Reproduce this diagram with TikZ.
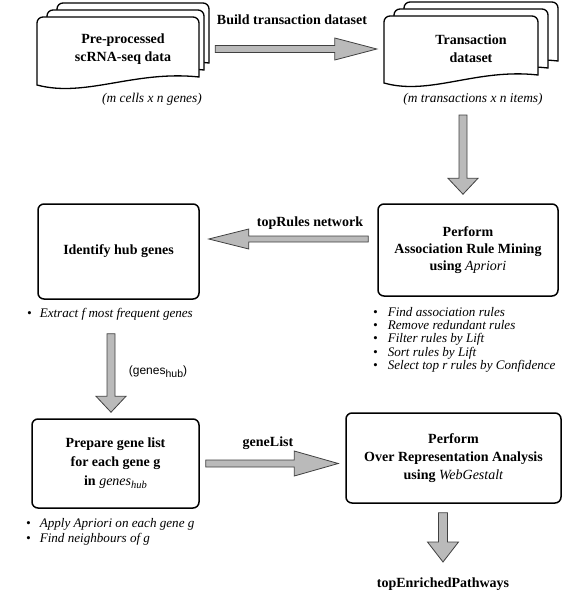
\documentclass[tikz,border=0pt]{standalone}
\usepackage{fontspec}
\setmainfont{Liberation Serif}
\setsansfont{Liberation Sans}
\usetikzlibrary{calc}

\tikzset{
    box/.style={draw, line width=1.5pt, rounded corners=6pt, align=center,
        font=\bfseries\fontsize{14}{18}\selectfont},
    doc/.style={align=center, font=\bfseries\fontsize{14}{18}\selectfont},
    lbl/.style={font=\bfseries\fontsize{14}{17}\selectfont},
    dim/.style={font=\itshape\fontsize{13.4}{14}\selectfont},
    note/.style={align=left, inner sep=0pt, anchor=north west,
        font=\itshape\fontsize{13.1}{13.3}\selectfont},
    sheet/.style={draw, fill=white, line width=1.3pt},
    fat/.style={draw=black!75, fill=black!27, line width=0.8pt, line join=miter}
}

% from, to, shaft half width, head half width, head length
\newcommand{\blockarrow}[5]{%
    \coordinate (hb) at ($(#2)!#5!(#1)$);
    \filldraw[fat] ($(#1)!#3!90:(#2)$) -- ($(hb)!#3!90:(#2)$) -- ($(hb)!#4!90:(#2)$) -- (#2)
        -- ($(hb)!#4!-90:(#2)$) -- ($(hb)!#3!-90:(#2)$) -- ($(#1)!#3!-90:(#2)$) -- cycle;
}

% left, top, width, height, shrink
\newcommand{\docstack}[5]{%
    \foreach \i in {2,1,0} {
        \pgfmathsetmacro\sw{#3-#5*\i}
        \begin{scope}[shift={({#1+10*\i},{#2-7*\i})}]
            \filldraw[sheet] (0,#4) -- (0,6) to[out=90,in=180] (6,0) -- ({\sw-6},0)
                to[out=0,in=90] (\sw,6) -- (\sw,{#4-8})
                .. controls ({0.6*\sw},{#4-15}) and ({0.3*\sw},{#4+13}) .. cycle;
        \end{scope}
    }
}
% lowered subscript, a bit larger than \textsubscript
\newcommand{\hubsub}[1]{\raisebox{-3pt}{\fontsize{10.5}{11}\selectfont #1}}

\begin{document}
\begin{tikzpicture}[x=1pt, y=-1pt]
    \useasboundingbox (0,0) rectangle (579,592);

    % data sheets
    \docstack{37}{17}{162}{68}{5}
    \docstack{384}{16}{154}{67}{0}
    \node[doc, minimum width=172pt] (prep) at (123,49) {Pre-processed\\scRNA-seq data};
    \node[doc, minimum width=174pt] (trans) at (471,49) {Transaction\\dataset};
    \node[dim] (prepdim) at (152,99) {(m cells x n genes)};
    \node[dim] (transdim) at (473,99) {(m transactions x n items)};

    % steps
    \node[box, minimum width=180pt, minimum height=92pt,
        font=\bfseries\fontsize{14}{17}\selectfont] (mine) at (468,250)
        {Perform\\Association Rule Mining\\using \textit{\mdseries Apriori}};
    \node[box, minimum width=161pt, minimum height=95pt] (hub) at (118.5,251.5) {Identify hub genes};
    \node[box, minimum width=167pt, minimum height=89pt,
        font=\bfseries\fontsize{14}{19}\selectfont] (prepl) at (115.5,463.5)
        {Prepare gene list\\for each gene g\\in \textit{\mdseries genes\hubsub{hub}}};
    \node[box, minimum width=215pt, minimum height=90pt] (ora) at (453.5,458)
        {Perform\\Over Representation Analysis\\using \textit{\mdseries WebGestalt}};

    % bullet notes
    \node[note] (mineitems) at (373,307) {\textbullet\hspace{10pt}Find association rules\\
        \textbullet\hspace{10pt}Remove redundant rules\\
        \textbullet\hspace{10pt}Filter rules by Lift\\
        \textbullet\hspace{10pt}Sort rules by Lift\\
        \textbullet\hspace{10pt}Select top r rules by Confidence};
    \node[note] (hubitems) at (27,308) {\textbullet\hspace{8pt}Extract f most frequent genes};
    \node[note, font=\itshape\fontsize{13.1}{15}\selectfont] (prepitems) at (26,518)
        {\textbullet\hspace{9pt}Apply Apriori on each gene g\\
        \textbullet\hspace{9pt}Find neighbours of g};

    % arrow labels
    \node[lbl] (buildlbl) at (292,20) {Build transaction dataset};
    \node[lbl] (ruleslbl) at (310,223) {topRules network};
    \node[font=\sffamily\fontsize{12}{14}\selectfont] (hublbl) at (158,372) {(genes\hubsub{hub})};
    \node[lbl] (genelbl) at (268,443) {geneList};
    \node[lbl] (paths) at (443,584) {topEnrichedPathways};

    % block arrows
    \coordinate (a1) at ($(prep.east)+(6,0)$);
    \coordinate (b1) at ($(trans.west)+(-7,0)$);
    \blockarrow{a1}{b1}{3.5pt}{11pt}{42pt}
    \coordinate (a2) at ($(trans)+(-8,66)$);
    \coordinate (b2) at ($(mine.north)+(-5,-9)$);
    \blockarrow{a2}{b2}{4pt}{15pt}{16pt}
    \coordinate (a3) at ($(mine.west)+(-9,-11)$);
    \coordinate (b3) at ($(hub.east)+(9,-12.5)$);
    \blockarrow{a3}{b3}{3pt}{10pt}{40pt}
    \coordinate (a4) at ($(hub.south)+(-7.5,34)$);
    \coordinate (b4) at ($(prepl.north)+(-4.5,-6)$);
    \blockarrow{a4}{b4}{4pt}{15pt}{16pt}
    \coordinate (a5) at ($(prepl.east)+(6,0)$);
    \coordinate (b5) at ($(ora.west)+(-7,5.5)$);
    \blockarrow{a5}{b5}{3.5pt}{12.5pt}{44pt}
    \coordinate (a6) at ($(ora.south)+(-10.5,9)$);
    \coordinate (b6) at ($(paths)+(0,-22)$);
    \blockarrow{a6}{b6}{4.5pt}{15.5pt}{20pt}
\end{tikzpicture}
\end{document}
